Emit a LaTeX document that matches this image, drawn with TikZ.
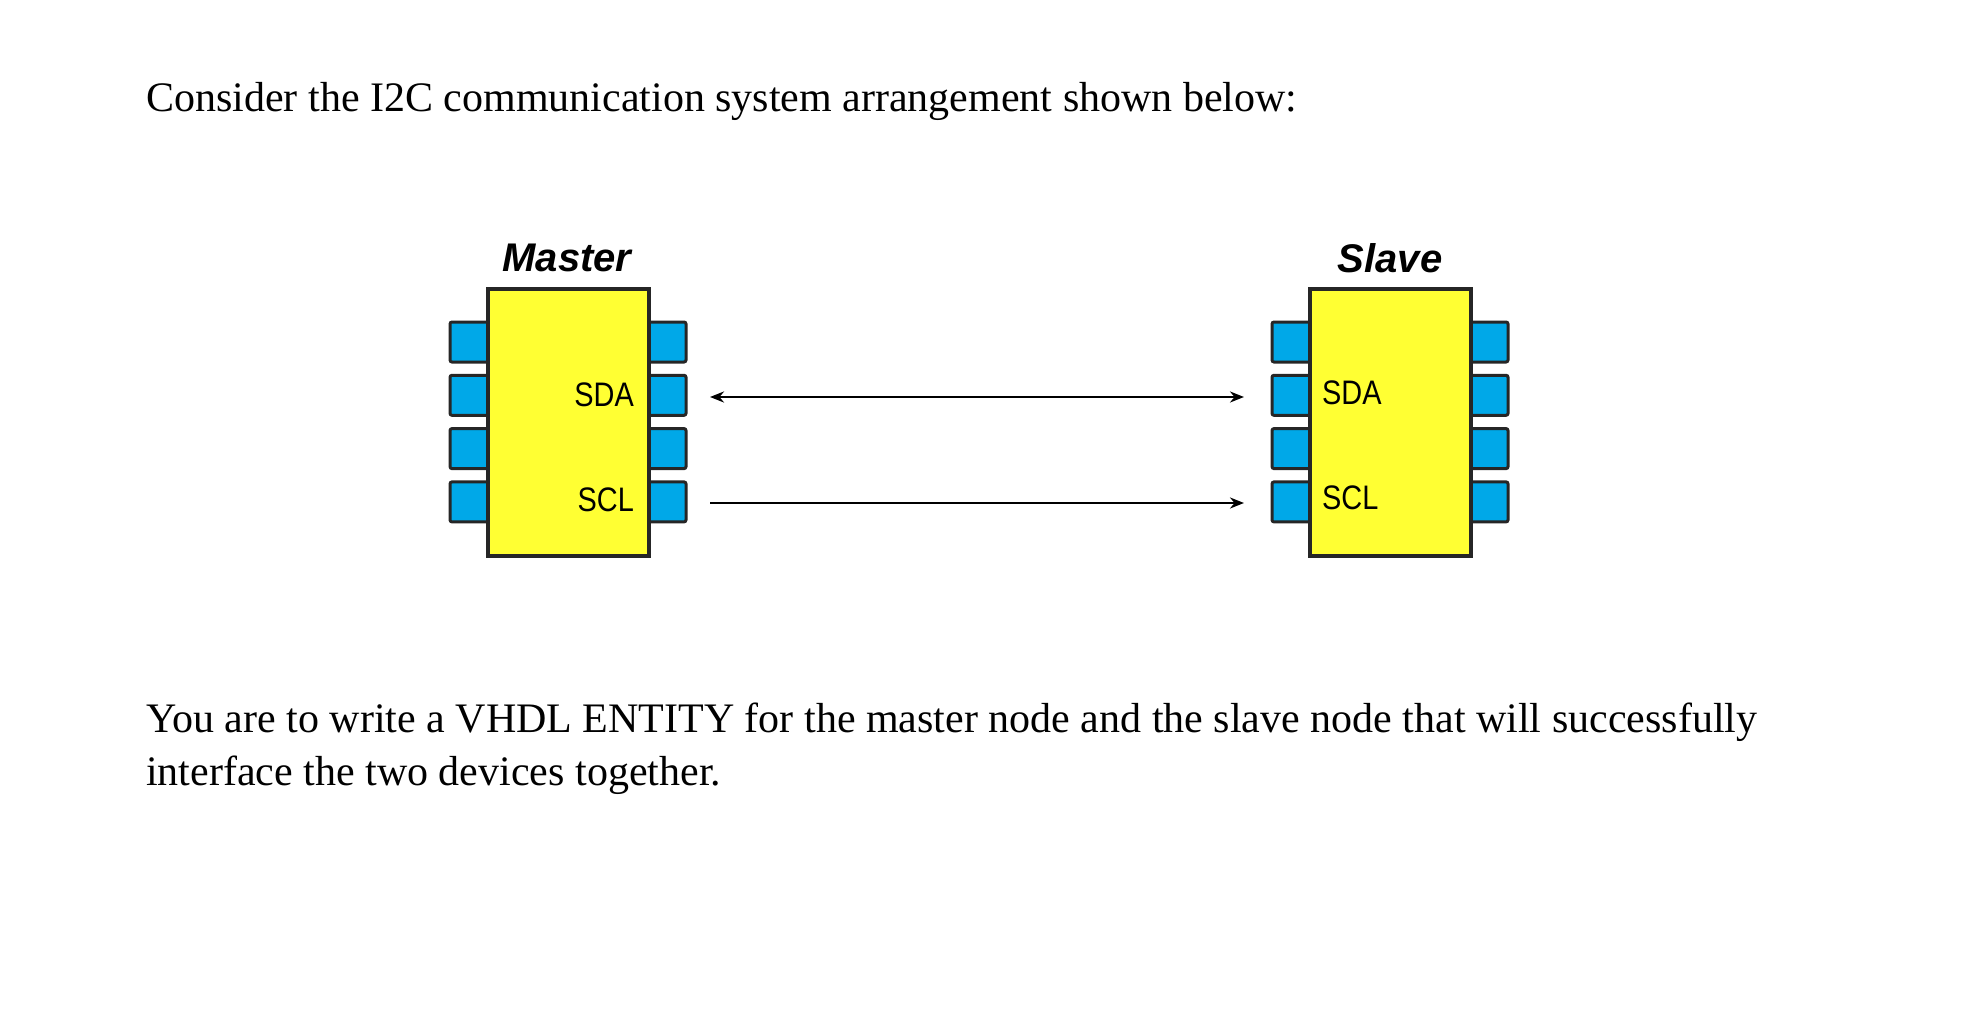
\documentclass[tikz,border=0pt]{standalone}
\usepackage{fontspec}
\usetikzlibrary{arrows.meta}
\setmainfont{Liberation Serif}
\newfontfamily\arialf{Liberation Sans}
\definecolor{chipY}{HTML}{FFFF33}
\definecolor{pinB}{HTML}{00A8E8}
\begin{document}
\begin{tikzpicture}[x=1pt,y=-1pt,
 body/.style={font=\fontsize{42}{50}\selectfont,anchor=base west,inner sep=0},
 pin/.style={draw=black!85,line width=3pt,fill=pinB,rounded corners=2pt},
 chip/.style={draw=black!85,line width=3.5pt,fill=chipY},
 lab/.style={font=\arialf\fontsize{34}{40}\selectfont,inner sep=0,xscale=0.85},
 ttl/.style={font=\arialf\bfseries\itshape\fontsize{40}{48}\selectfont,inner sep=0},
 arr/.style={line width=2.5pt,-{Stealth[length=14pt,width=11pt]}}]
\useasboundingbox (0,0) rectangle (1986,1030);
\node[body] (t1) at (146,112) {Consider the I2C communication system arrangement shown below:};
\node[body] (t2) at (146,732) {You are to write a VHDL ENTITY for the master node and the slave node that will successfully};
\node[body] (t3) at (146,785) {interface the two devices together.};
% pins
\foreach \bx/\name in {488/m,1310/s}{
 \foreach \i in {0,1,2,3}{
  \pgfmathsetmacro{\yy}{322+53.3*\i}
  \draw[pin] (\bx-38,\yy) rectangle (\bx+4,\yy+40);
  \draw[pin] (\bx+158,\yy) rectangle (\bx+198,\yy+40);
 }
 \draw[chip] (\bx,289) rectangle (\bx+161,556);
}
\node[ttl] (ml) at (567,258) {Master};
\node[ttl] (sl) at (1390,258) {Slave};
\node[lab,anchor=east] (msda) at (634,395) {SDA};
\node[lab,anchor=east] (mscl) at (634,500) {SCL};
\node[lab,anchor=west] (ssda) at (1322,393) {SDA};
\node[lab,anchor=west] (sscl) at (1322,498) {SCL};
\coordinate (a1) at (710,397);
\coordinate (a2) at (1244,397);
\coordinate (b1) at (710,503);
\coordinate (b2) at (1244,503);
\draw[arr,{Stealth[length=14pt,width=11pt]}-{Stealth[length=14pt,width=11pt]}] (a1) -- (a2);
\draw[arr] (b1) -- (b2);
\end{tikzpicture}
\end{document}
